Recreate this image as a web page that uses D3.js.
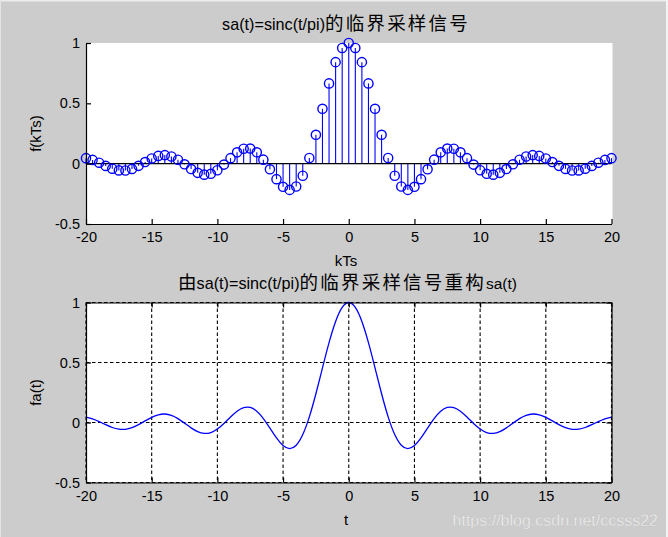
<!DOCTYPE html>
<html><head><meta charset="utf-8">
<script src="https://cdn.jsdelivr.net/npm/d3@7"></script>
<style>
html,body{margin:0;padding:0;background:#cccccc;}
svg{display:block;}
</style></head>
<body>
<svg id="c" width="668" height="537"></svg>
<script>
// ---- data ----
const Ts = 0.5;
const sampleIndex = d3.range(-40, 41);           // k
const sampleValues = [
 0.0456,0.0311,0.0079,-0.0184,-0.0417,-0.0557,-0.0566,-0.0432,-0.0180,0.0133,
 0.0434,0.0645,0.0708,0.0595,0.0323,-0.0053,-0.0447,-0.0761,-0.0909,-0.0838,
 -0.0544,-0.0079,0.0458,0.0939,0.1237,0.1251,0.0939,0.0331,-0.0466,-0.1283,
 -0.1918,-0.2172,-0.1892,-0.1002,0.0470,0.2394,0.4546,0.6650,0.8415,0.9589,
 1.0000,
 0.9589,0.8415,0.6650,0.4546,0.2394,0.0470,-0.1002,-0.1892,-0.2172,-0.1918,
 -0.1283,-0.0466,0.0331,0.0939,0.1251,0.1237,0.0939,0.0458,-0.0079,-0.0544,
 -0.0838,-0.0909,-0.0761,-0.0447,-0.0053,0.0323,0.0595,0.0708,0.0645,0.0434,
 0.0133,-0.0180,-0.0432,-0.0566,-0.0557,-0.0417,-0.0184,0.0079,0.0311,0.0456
];
const xTicks = [-20,-15,-10,-5,0,5,10,15,20];
const yTicks = [-0.5,0,0.5,1];
const title1Latin = "sa(t)=sinc(t/pi)", title1Cjk = "的临界采样信号";
const title2Pre = "由", title2Latin = "sa(t)=sinc(t/pi)", title2Cjk = "的临界采样信号重构", title2Post = "sa(t)";
const xLabel1 = "kTs", yLabel1 = "f(kTs)", xLabel2 = "t", yLabel2 = "fa(t)";
const watermark = "https://blog.csdn.net/ccsss22";

// ---- layout ----
const svg = d3.select("#c");
const LAT = "'Liberation Sans', Arial, sans-serif";
const CJK = "'Noto Sans CJK SC', sans-serif";
const tickFont = 14.5;

// frame highlight
svg.append("rect").attr("x",0).attr("y",0).attr("width",668).attr("height",537).attr("fill","#cccccc");
svg.append("rect").attr("x",0).attr("y",0).attr("width",668).attr("height",1.5).attr("fill","#ececec");
svg.append("rect").attr("x",0).attr("y",0).attr("width",1).attr("height",537).attr("fill","#e4e4e4");
svg.append("rect").attr("x",666).attr("y",0).attr("width",2).attr("height",537).attr("fill","#f4f4f4");

const pts = sampleIndex.map((k,i)=>({t:k*Ts, v:sampleValues[i]}));

function makePanel(top, bottom) {
  const x = d3.scaleLinear().domain([-20,20]).range([86,611.5]);
  const y = d3.scaleLinear().domain([-0.5,1]).range([bottom, top]);
  return {x,y};
}

function styleAxis(g){
  g.selectAll("path.domain").attr("stroke","#000").attr("stroke-width",1.2);
  g.selectAll(".tick line").attr("stroke","#000").attr("stroke-width",1.2);
  g.selectAll(".tick text").attr("font-family",LAT).attr("font-size",tickFont).attr("fill","#000");
}
const fmt = d => String(d);

// ===== Panel 1 =====
const p1 = makePanel(43, 224);
svg.append("rect").attr("x",p1.x(-20)).attr("y",p1.y(1)).attr("width",p1.x(20)-p1.x(-20)+1).attr("height",p1.y(-0.5)-p1.y(1)).attr("fill","#fff");

// stems
const g1 = svg.append("g");
g1.selectAll("line.stem").data(pts).enter().append("line")
  .attr("x1",d=>p1.x(d.t)).attr("x2",d=>p1.x(d.t))
  .attr("y1",p1.y(0)).attr("y2",d=>p1.y(d.v))
  .attr("stroke","#0000ff").attr("stroke-width",1.1);
// baseline
g1.append("line").attr("x1",p1.x(-20)).attr("x2",p1.x(20)).attr("y1",p1.y(0)).attr("y2",p1.y(0))
  .attr("stroke","#000").attr("stroke-width",1.2);
g1.selectAll("circle").data(pts).enter().append("circle")
  .attr("cx",d=>p1.x(d.t)).attr("cy",d=>p1.y(d.v)).attr("r",4.6)
  .attr("fill","none").attr("stroke","#0000ff").attr("stroke-width",1.4);

const ax1 = svg.append("g").attr("transform",`translate(${p1.x(-20)},0)`)
  .call(d3.axisLeft(p1.y).tickValues(yTicks).tickFormat(fmt).tickSizeInner(-5).tickSizeOuter(0).tickPadding(6));
styleAxis(ax1);
const bx1 = svg.append("g").attr("transform",`translate(0,${p1.y(-0.5)})`)
  .call(d3.axisBottom(p1.x).tickValues(xTicks).tickFormat(fmt).tickSizeInner(-5).tickSizeOuter(0).tickPadding(8));
styleAxis(bx1);

// titles / labels
const t1 = svg.append("text").attr("x",346).attr("y",30).attr("text-anchor","middle").attr("fill","#000");
t1.append("tspan").attr("font-family",LAT).attr("font-size",16.2).text(title1Latin);
t1.append("tspan").attr("font-family",CJK).attr("font-size",18.5).attr("letter-spacing",2.2).text(title1Cjk);

svg.append("text").attr("x",346).attr("y",266).attr("text-anchor","middle").attr("font-family",LAT).attr("font-size",15).text(xLabel1);
svg.append("text").attr("transform",`translate(41,${(p1.y(1)+p1.y(-0.5))/2}) rotate(-90)`).attr("text-anchor","middle")
  .attr("font-family",LAT).attr("font-size",15).text(yLabel1);

// ===== Panel 2 =====
const p2 = makePanel(302.5, 482.5);
svg.append("rect").attr("x",p2.x(-20)).attr("y",p2.y(1)).attr("width",p2.x(20)-p2.x(-20)).attr("height",p2.y(-0.5)-p2.y(1)).attr("fill","#fff");

const grid = svg.append("g");
grid.selectAll("line.gx").data(xTicks).enter().append("line")
  .attr("x1",d=>p2.x(d)).attr("x2",d=>p2.x(d)).attr("y1",p2.y(1)).attr("y2",p2.y(-0.5))
  .attr("stroke","#000").attr("stroke-width",1.1).attr("stroke-dasharray","3.5,2.5");
grid.selectAll("line.gy").data(yTicks).enter().append("line")
  .attr("x1",p2.x(-20)).attr("x2",p2.x(20)).attr("y1",d=>p2.y(d)).attr("y2",d=>p2.y(d))
  .attr("stroke","#000").attr("stroke-width",1.1).attr("stroke-dasharray","3.5,2.5");

const line = d3.line().x(d=>p2.x(d.t)).y(d=>p2.y(d.v)).curve(d3.curveNatural);
svg.append("path").datum(pts).attr("d",line).attr("fill","none").attr("stroke","#0000ff").attr("stroke-width",1.3);

const ax2 = svg.append("g").attr("transform",`translate(${p2.x(-20)},0)`)
  .call(d3.axisLeft(p2.y).tickValues(yTicks).tickFormat(fmt).tickSizeInner(-5).tickSizeOuter(0).tickPadding(6));
styleAxis(ax2);
const ax2r = svg.append("g").attr("transform",`translate(${p2.x(20)},0)`)
  .call(d3.axisRight(p2.y).tickValues(yTicks).tickFormat("").tickSizeInner(-5).tickSizeOuter(0));
styleAxis(ax2r);
const bx2 = svg.append("g").attr("transform",`translate(0,${p2.y(-0.5)})`)
  .call(d3.axisBottom(p2.x).tickValues(xTicks).tickFormat(fmt).tickSizeInner(-5).tickSizeOuter(0).tickPadding(8));
styleAxis(bx2);
const tx2 = svg.append("g").attr("transform",`translate(0,${p2.y(1)})`)
  .call(d3.axisTop(p2.x).tickValues(xTicks).tickFormat("").tickSizeInner(-5).tickSizeOuter(0));
styleAxis(tx2);

const t2 = svg.append("text").attr("x",347.5).attr("y",289).attr("text-anchor","middle").attr("fill","#000");
t2.append("tspan").attr("font-family",CJK).attr("font-size",18.5).text(title2Pre);
t2.append("tspan").attr("font-family",LAT).attr("font-size",16.2).text(title2Latin);
t2.append("tspan").attr("font-family",CJK).attr("font-size",18.5).attr("letter-spacing",2.2).text(title2Cjk);
t2.append("tspan").attr("font-family",LAT).attr("font-size",15.5).text(title2Post);

svg.append("text").attr("x",346).attr("y",525).attr("text-anchor","middle").attr("font-family",LAT).attr("font-size",15).text(xLabel2);
svg.append("text").attr("transform",`translate(41,${(p2.y(1)+p2.y(-0.5))/2}) rotate(-90)`).attr("text-anchor","middle")
  .attr("font-family",LAT).attr("font-size",15).text(yLabel2);

// watermark
svg.append("text").attr("x",658).attr("y",526).attr("text-anchor","end").attr("font-family",LAT).attr("font-size",16)
  .attr("fill","#f2f2f2").attr("stroke","#b8b8b8").attr("stroke-width",0.3).text(watermark);
</script>
</body></html>
